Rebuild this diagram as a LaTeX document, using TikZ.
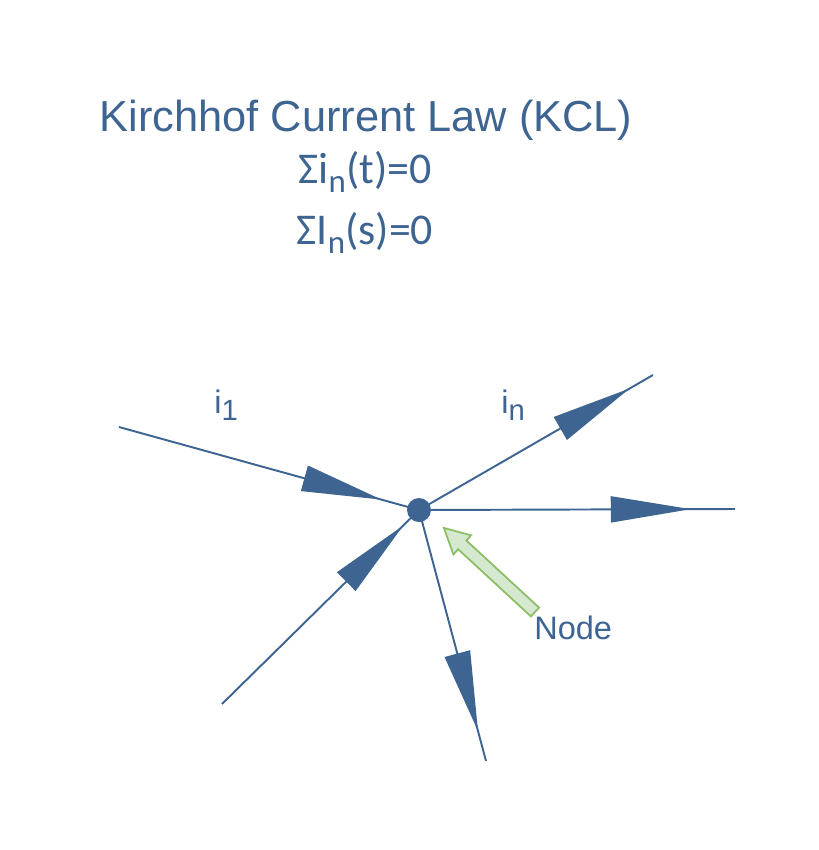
\documentclass[tikz,border=0pt]{standalone}
\usepackage{fontspec}
\setmainfont{Liberation Sans}
\newfontfamily\eqfont{Carlito}
\usetikzlibrary{arrows.meta,decorations.markings}

\definecolor{kblue}{RGB}{62,100,146}
\definecolor{kgreen}{RGB}{140,190,100}
\definecolor{kfill}{RGB}{213,232,208}

% lowered subscript: #1 = scale, #2 = text
\newcommand{\lowsub}[2]{\raisebox{-0.22em}{\scalebox{#1}{#2}}}

\tikzset{
  wire/.style={kblue, line width=1.1pt, postaction={decorate},
    decoration={markings, mark=at position #1 with
      {\arrow{Triangle[length=1.6cm,width=0.52cm]}}}},
  lbl/.style={text=kblue, inner sep=0pt, anchor=base,
    font=\fontsize{18.5}{22}\selectfont},
  eq/.style={lbl, font=\eqfont\fontsize{25}{30}\selectfont},
}

\begin{document}
\begin{tikzpicture}[x=0.02cm, y=-0.02cm]
    \useasboundingbox (0,0) rectangle (819,850);

    % --- Title and equations ---
    \node[lbl, font=\fontsize{24.7}{30}\selectfont] (T) at (366,131) {Kirchhof Current Law (KCL)};
    \node[eq] (S1) at (365,183) {Σi\lowsub{0.75}{n}(t)=0};
    \node[eq] (S2) at (365,244) {ΣI\lowsub{0.75}{n}(s)=0};

    % --- Coordinates ---
    % A is the far end of branch 1 (current flows in)
    \coordinate (A) at (119,427);
    % B is the lower left branch (current flows in)
    \coordinate (B) at (222,704);
    % C, D and E are the branches where current leaves
    \coordinate (C) at (653,375);
    \coordinate (D) at (735,509);
    \coordinate (E) at (486,761);

    % --- The node ---
    \node[circle, fill=kblue, inner sep=0pt, minimum size=0.48cm] (N) at (419,510) {};

    % --- Branches ---
    \draw[wire=0.875] (A) -- (N.center);
    \draw[wire=0.92] (B) -- (N.center);
    \draw[wire=0.9] (N.center) -- (C);
    \draw[wire=0.86] (N.center) -- (D);
    \draw[wire=0.88] (N.center) -- (E);

    % --- Current labels ---
    \node[lbl, anchor=base west] (I1) at (214,413) {i\lowsub{0.9}{1}};
    \node[lbl, anchor=base west] (In) at (501,413) {i\lowsub{0.9}{n}};

    % --- Pointer to the node ---
    \node[lbl, anchor=base west] (L) at (534,639) {Node};
    \begin{scope}[shift={(535,612)}, rotate=137.3]
        \draw[kgreen, fill=kfill, line width=1pt, line join=miter]
            (0,-6) -- (99,-6) -- (99,-13) -- (124,0) -- (99,13) -- (99,6) -- (0,6) -- cycle;
    \end{scope}

\end{tikzpicture}
\end{document}
